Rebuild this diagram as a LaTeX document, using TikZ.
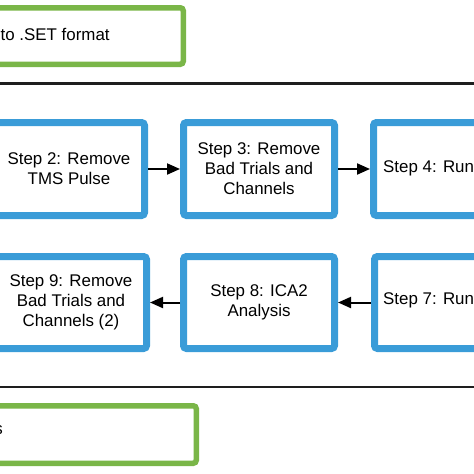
\documentclass[tikz,border=0pt]{standalone}
\usepackage{fontspec}
\setmainfont{Liberation Sans}
\usetikzlibrary{arrows.meta}
\definecolor{stepblue}{RGB}{58,156,216}
\definecolor{stepgreen}{RGB}{122,182,72}
\definecolor{rulegray}{RGB}{30,30,30}
\tikzset{
  bluebox/.style={draw=stepblue, line width=7pt, rounded corners=3pt, fill=white,
    minimum width=151pt, minimum height=93pt, inner sep=0pt, align=center,
    font=\fontsize{16.9pt}{20pt}\selectfont},
  greenbox/.style={draw=stepgreen, line width=5.5pt, rounded corners=3pt, fill=white,
    inner sep=0pt},
  lbl/.style={inner sep=0pt, font=\fontsize{16.9pt}{20pt}\selectfont, align=center},
  flow/.style={line width=2pt, -{Triangle[length=13pt,width=11pt]}},
  sepline/.style={line width=2.5pt, draw=rulegray}
}
\begin{document}
\begin{tikzpicture}[x=1pt,y=-1pt]
\useasboundingbox (0,0) rectangle (474,474);
% top green box
\node[greenbox, minimum width=192.5pt, minimum height=56.5pt] (g1) at (87,36) {};
\node[lbl, anchor=west] (g1t) at (0.5,34.5) {to .SET format};
% separator lines
\coordinate (l1a) at (0,83.5);
\coordinate (l1b) at (474,83.5);
\draw[sepline] (l1a) -- (l1b);
\coordinate (l2a) at (0,387);
\coordinate (l2b) at (474,387);
\draw[sepline] (l2a) -- (l2b);
% row 1
\node[bluebox] (s2) at (69,169) {Step 2: Remove\\TMS Pulse};
\node[bluebox] (s3) at (259,169) {Step 3: Remove\\Bad Trials and\\Channels};
\node[bluebox] (s4) at (449,169) {};
\node[lbl, anchor=west] (s4t) at (383,168) {Step 4: Run};
\draw[flow] (s2.east) -- (s3.west);
\draw[flow] (s3.east) -- (s4.west);
% row 2
\node[bluebox, minimum height=92pt] (s9) at (71,302.5) {Step 9: Remove\\Bad Trials and\\Channels (2)};
\node[bluebox, minimum height=92pt] (s8) at (259,302.5) {Step 8: ICA2\\Analysis};
\node[bluebox, minimum height=92pt] (s7) at (450,302.5) {};
\node[lbl, anchor=west] (s7t) at (383,300) {Step 7: Run};
\draw[flow] (s8.west) -- (s9.east);
\draw[flow] (s7.west) -- (s8.east);
% bottom green box
\node[greenbox, minimum width=207.5pt, minimum height=57.5pt] (g2) at (92.5,434.5) {};
\node[lbl, anchor=east] (g2t) at (3,430) {s};
\end{tikzpicture}
\end{document}
